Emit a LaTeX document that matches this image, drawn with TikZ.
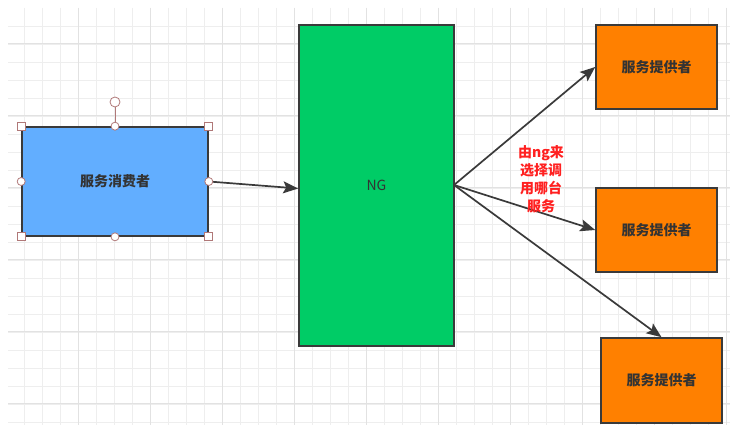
\documentclass[tikz,border=0pt]{standalone}
\usepackage{fontspec}
\newfontfamily\cjk{Noto Sans CJK SC}
\usetikzlibrary{arrows.meta}
\definecolor{gridminor}{HTML}{EEEEEE}
\definecolor{gridmajor}{HTML}{E2E2E2}
\definecolor{consumer}{HTML}{62AEFF}
\definecolor{nggreen}{HTML}{00CC66}
\definecolor{provider}{HTML}{FF8000}
\definecolor{edge}{HTML}{3A3A3A}
\definecolor{handle}{HTML}{B07878}
\definecolor{labelred}{HTML}{FF2020}
\definecolor{boxtext}{HTML}{333333}
\tikzset{
  boxnode/.style={draw=edge, line width=1.6pt, inner sep=0pt, font=\cjk\bfseries\fontsize{14}{16}\selectfont, text=boxtext},
  conn/.style={draw=edge, line width=1.7pt, -{Stealth[length=15pt,width=12pt,inset=3pt]}},
  sqhandle/.style={draw=handle, fill=white, line width=0.8pt, minimum size=8pt, inner sep=0pt},
  cirhandle/.style={draw=handle, fill=white, line width=0.8pt, circle, minimum size=8pt, inner sep=0pt},
}
\begin{document}
\begin{tikzpicture}[x=1pt,y=-1pt]
\useasboundingbox (0,0) rectangle (740,435);
\fill[white] (0,0) rectangle (740,435);
% grid
\foreach \gx in {24,42,...,726} \draw[gridminor, line width=0.8pt] (\gx,8) -- (\gx,425);
\foreach \gy in {26,44,...,422} \draw[gridminor, line width=0.8pt] (8,\gy) -- (730,\gy);
\foreach \gx in {78,150,...,726} \draw[gridmajor, line width=1pt] (\gx,8) -- (\gx,425);
\foreach \gy in {44,116,...,422} \draw[gridmajor, line width=1pt] (8,\gy) -- (730,\gy);
% boxes
\node[boxnode, fill=consumer, minimum width=186pt, minimum height=109pt] (c) at (115,181.5) {服务消费者};
\node[boxnode, fill=nggreen, minimum width=155pt, minimum height=321pt, font=\cjk\fontsize{14}{16}\selectfont] (ng) at (376.5,185.5) {NG};
\node[boxnode, fill=provider, minimum width=121pt, minimum height=84pt] (p1) at (656.5,67) {服务提供者};
\node[boxnode, fill=provider, minimum width=121pt, minimum height=84pt] (p2) at (656.5,230) {服务提供者};
\node[boxnode, fill=provider, minimum width=121pt, minimum height=85pt] (p3) at (661.5,380.5) {服务提供者};
% connectors
\coordinate (ngr) at (454,185);
\draw[conn] (c.east) -- ([yshift=-3pt]ng.west);
\draw[conn] (ngr) -- (p1.west);
\draw[conn] (ngr) -- (p2.west);
\draw[conn] (ngr) -- (p3.north);
% label
\node[font=\cjk\bfseries\fontsize{14}{18}\selectfont, text=labelred, align=center, inner sep=0pt] (lbl) at (541,179) {由ng来\\选择调\\用哪台\\服务};
% selection handles
\node[cirhandle, minimum size=10pt] (rot) at (115,102) {};
\draw[handle, line width=0.8pt] (rot.south) -- (c.north);
\foreach \a in {north west,north east,south west,south east} \node[sqhandle] at (c.\a) {};
\foreach \a in {north,south,east,west} \node[cirhandle] at (c.\a) {};
\end{tikzpicture}
\end{document}
